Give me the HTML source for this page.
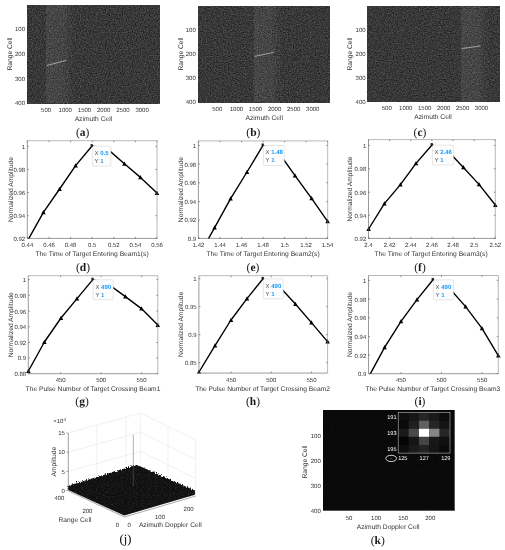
<!DOCTYPE html>
<html lang="en"><head><meta charset="utf-8"><title>Figure</title>
<style>
html,body{margin:0;padding:0;background:#fff}
body{width:505px;height:550px;overflow:hidden}
svg{display:block;text-rendering:geometricPrecision;font-family:"Liberation Sans",sans-serif}
.cap{font-family:"Liberation Serif",serif;font-size:11.5px;fill:#1a1a1a}
</style></head><body>
<svg width="505" height="550" viewBox="0 0 505 550">
<defs>
<filter id="nz0" x="0" y="0" width="100%" height="100%" color-interpolation-filters="sRGB">
<feTurbulence type="fractalNoise" baseFrequency="0.77 0.83" numOctaves="2" seed="3" result="t"/>
<feColorMatrix type="matrix" values="0.36 0 0 0 0.04  0.36 0 0 0 0.04  0.36 0 0 0 0.04  0 0 0 0 1"/>
</filter>
<filter id="nz1" x="0" y="0" width="100%" height="100%" color-interpolation-filters="sRGB">
<feTurbulence type="fractalNoise" baseFrequency="0.77 0.83" numOctaves="2" seed="11" result="t"/>
<feColorMatrix type="matrix" values="0.36 0 0 0 0.04  0.36 0 0 0 0.04  0.36 0 0 0 0.04  0 0 0 0 1"/>
</filter>
<filter id="nz2" x="0" y="0" width="100%" height="100%" color-interpolation-filters="sRGB">
<feTurbulence type="fractalNoise" baseFrequency="0.77 0.83" numOctaves="2" seed="27" result="t"/>
<feColorMatrix type="matrix" values="0.36 0 0 0 0.04  0.36 0 0 0 0.04  0.36 0 0 0 0.04  0 0 0 0 1"/>
</filter>
<filter id="nzk" x="0" y="0" width="100%" height="100%" color-interpolation-filters="sRGB">
<feTurbulence type="fractalNoise" baseFrequency="0.9" numOctaves="1" seed="5"/>
<feColorMatrix type="matrix" values="0.12 0 0 0 -0.02  0.12 0 0 0 -0.02  0.12 0 0 0 -0.02  0 0 0 0 1"/>
</filter>
<filter id="nzj" x="-5%" y="-20%" width="110%" height="140%">
<feTurbulence type="fractalNoise" baseFrequency="0.8" numOctaves="1" seed="9"/>
<feDisplacementMap in="SourceGraphic" scale="5.5" xChannelSelector="R" yChannelSelector="G"/>
</filter>
<filter id="nzs" x="0" y="0" width="100%" height="100%" color-interpolation-filters="sRGB">
<feTurbulence type="fractalNoise" baseFrequency="0.85 0.9" numOctaves="1" seed="17"/>
<feColorMatrix type="matrix" values="0 0 0 0 0.2  0 0 0 0 0.2  0 0 0 0 0.2  3 0 0 0 -1.55"/>
</filter>
<linearGradient id="band" x1="0" x2="1" y1="0" y2="0">
<stop offset="0" stop-color="#fff" stop-opacity="0.075"/>
<stop offset="0.6" stop-color="#fff" stop-opacity="0.065"/>
<stop offset="0.8" stop-color="#fff" stop-opacity="0.02"/>
<stop offset="1" stop-color="#fff" stop-opacity="0"/>
</linearGradient>
</defs>
<rect width="505" height="550" fill="#fff"/>
<rect x="27.3" y="5.0" width="132.35" height="98.40" fill="#3d3d3d"/>
<rect x="27.3" y="5.0" width="132.35" height="98.40" filter="url(#nz0)"/>
<rect x="46.0" y="5.0" width="30" height="98.40" fill="url(#band)"/>
<line x1="46.4" y1="65.6" x2="66" y2="60.4" stroke="#cdcdcd" stroke-width="0.7"/>
<text x="25.00" y="31.48" font-size="6.0" text-anchor="end" fill="#333" >100</text>
<text x="25.00" y="56.08" font-size="6.0" text-anchor="end" fill="#333" >200</text>
<text x="25.00" y="80.68" font-size="6.0" text-anchor="end" fill="#333" >300</text>
<text x="25.00" y="105.28" font-size="6.0" text-anchor="end" fill="#333" >400</text>
<text x="46.10" y="111.60" font-size="6.0" text-anchor="middle" fill="#333" >500</text>
<text x="65.30" y="111.60" font-size="6.0" text-anchor="middle" fill="#333" >1000</text>
<text x="84.50" y="111.60" font-size="6.0" text-anchor="middle" fill="#333" >1500</text>
<text x="103.70" y="111.60" font-size="6.0" text-anchor="middle" fill="#333" >2000</text>
<text x="122.90" y="111.60" font-size="6.0" text-anchor="middle" fill="#333" >2500</text>
<text x="142.10" y="111.60" font-size="6.0" text-anchor="middle" fill="#333" >3000</text>
<text transform="translate(12.16,54.00) rotate(-90)" font-size="6.7" text-anchor="middle" fill="#333">Range Cell</text>
<text x="93.40" y="120.68" font-size="6.7" text-anchor="middle" fill="#333" >Azimuth Cell</text>
<text x="82.60" y="136.40" class="cap" text-anchor="middle">(<tspan font-weight="bold">a</tspan>)</text>
<rect x="198.1" y="6.1" width="131.75" height="96.30" fill="#3d3d3d"/>
<rect x="198.1" y="6.1" width="131.75" height="96.30" filter="url(#nz1)"/>
<rect x="254" y="6.1" width="30" height="96.30" fill="url(#band)"/>
<line x1="254.4" y1="56.4" x2="273.6" y2="52.4" stroke="#cdcdcd" stroke-width="0.7"/>
<text x="195.80" y="32.05" font-size="6.0" text-anchor="end" fill="#333" >100</text>
<text x="195.80" y="56.13" font-size="6.0" text-anchor="end" fill="#333" >200</text>
<text x="195.80" y="80.20" font-size="6.0" text-anchor="end" fill="#333" >300</text>
<text x="195.80" y="104.28" font-size="6.0" text-anchor="end" fill="#333" >400</text>
<text x="217.30" y="110.60" font-size="6.0" text-anchor="middle" fill="#333" >500</text>
<text x="236.40" y="110.60" font-size="6.0" text-anchor="middle" fill="#333" >1000</text>
<text x="255.50" y="110.60" font-size="6.0" text-anchor="middle" fill="#333" >1500</text>
<text x="274.60" y="110.60" font-size="6.0" text-anchor="middle" fill="#333" >2000</text>
<text x="293.70" y="110.60" font-size="6.0" text-anchor="middle" fill="#333" >2500</text>
<text x="312.80" y="110.60" font-size="6.0" text-anchor="middle" fill="#333" >3000</text>
<text transform="translate(182.76,54.00) rotate(-90)" font-size="6.7" text-anchor="middle" fill="#333">Range Cell</text>
<text x="264.30" y="119.68" font-size="6.7" text-anchor="middle" fill="#333" >Azimuth Cell</text>
<text x="253.40" y="136.20" class="cap" text-anchor="middle">(<tspan font-weight="bold">b</tspan>)</text>
<rect x="367.9" y="6.4" width="131.35" height="95.50" fill="#3d3d3d"/>
<rect x="367.9" y="6.4" width="131.35" height="95.50" filter="url(#nz2)"/>
<rect x="461.2" y="6.4" width="30" height="95.50" fill="url(#band)"/>
<line x1="461.6" y1="48.6" x2="480.4" y2="46" stroke="#cdcdcd" stroke-width="0.7"/>
<text x="365.60" y="32.16" font-size="6.0" text-anchor="end" fill="#333" >100</text>
<text x="365.60" y="56.03" font-size="6.0" text-anchor="end" fill="#333" >200</text>
<text x="365.60" y="79.91" font-size="6.0" text-anchor="end" fill="#333" >300</text>
<text x="365.60" y="103.78" font-size="6.0" text-anchor="end" fill="#333" >400</text>
<text x="386.80" y="110.10" font-size="6.0" text-anchor="middle" fill="#333" >500</text>
<text x="405.75" y="110.10" font-size="6.0" text-anchor="middle" fill="#333" >1000</text>
<text x="424.70" y="110.10" font-size="6.0" text-anchor="middle" fill="#333" >1500</text>
<text x="443.65" y="110.10" font-size="6.0" text-anchor="middle" fill="#333" >2000</text>
<text x="462.60" y="110.10" font-size="6.0" text-anchor="middle" fill="#333" >2500</text>
<text x="481.55" y="110.10" font-size="6.0" text-anchor="middle" fill="#333" >3000</text>
<text transform="translate(351.76,54.00) rotate(-90)" font-size="6.7" text-anchor="middle" fill="#333">Range Cell</text>
<text x="433.10" y="119.18" font-size="6.7" text-anchor="middle" fill="#333" >Azimuth Cell</text>
<text x="420.00" y="136.00" class="cap" text-anchor="middle">(<tspan font-weight="bold">c</tspan>)</text>
<rect x="27.3" y="140.7" width="129.70" height="97.70" fill="#fff" stroke="none"/>
<path d="M27.3 146.30h1.5M157 146.30h-1.5" stroke="#444" stroke-width="0.6"/>
<text x="25.10" y="148.70" font-size="6.0" text-anchor="end" fill="#333" >1</text>
<path d="M27.3 169.40h1.5M157 169.40h-1.5" stroke="#444" stroke-width="0.6"/>
<text x="25.10" y="171.80" font-size="6.0" text-anchor="end" fill="#333" >0.98</text>
<path d="M27.3 192.60h1.5M157 192.60h-1.5" stroke="#444" stroke-width="0.6"/>
<text x="25.10" y="195.00" font-size="6.0" text-anchor="end" fill="#333" >0.96</text>
<path d="M27.3 215.70h1.5M157 215.70h-1.5" stroke="#444" stroke-width="0.6"/>
<text x="25.10" y="218.10" font-size="6.0" text-anchor="end" fill="#333" >0.94</text>
<path d="M27.3 238.40h1.5M157 238.40h-1.5" stroke="#444" stroke-width="0.6"/>
<text x="25.10" y="240.80" font-size="6.0" text-anchor="end" fill="#333" >0.92</text>
<path d="M27.40 238.4v-1.5M27.40 140.7v1.5" stroke="#444" stroke-width="0.6"/>
<text x="27.40" y="246.90" font-size="6.0" text-anchor="middle" fill="#333" >0.44</text>
<path d="M49.00 238.4v-1.5M49.00 140.7v1.5" stroke="#444" stroke-width="0.6"/>
<text x="49.00" y="246.90" font-size="6.0" text-anchor="middle" fill="#333" >0.46</text>
<path d="M70.60 238.4v-1.5M70.60 140.7v1.5" stroke="#444" stroke-width="0.6"/>
<text x="70.60" y="246.90" font-size="6.0" text-anchor="middle" fill="#333" >0.48</text>
<path d="M92.20 238.4v-1.5M92.20 140.7v1.5" stroke="#444" stroke-width="0.6"/>
<text x="92.20" y="246.90" font-size="6.0" text-anchor="middle" fill="#333" >0.5</text>
<path d="M113.80 238.4v-1.5M113.80 140.7v1.5" stroke="#444" stroke-width="0.6"/>
<text x="113.80" y="246.90" font-size="6.0" text-anchor="middle" fill="#333" >0.52</text>
<path d="M135.40 238.4v-1.5M135.40 140.7v1.5" stroke="#444" stroke-width="0.6"/>
<text x="135.40" y="246.90" font-size="6.0" text-anchor="middle" fill="#333" >0.54</text>
<path d="M157.00 238.4v-1.5M157.00 140.7v1.5" stroke="#444" stroke-width="0.6"/>
<text x="157.00" y="246.90" font-size="6.0" text-anchor="middle" fill="#333" >0.56</text>
<clipPath id="c27_140"><rect x="24.3" y="137.7" width="136.70" height="101.00"/></clipPath>
<g clip-path="url(#c27_140)"><path d="M27.4 241.0 L43.4 212.4 L59.6 189.0 L75.6 165.6 L92.0 146.0 L108.2 149.6 L124.4 163.8 L140.4 177.4 L157.0 193.0" fill="none" stroke="#000" stroke-width="1.4" stroke-linejoin="round"/>
<path d="M25.15 242.90L29.65 242.90L27.40 238.70Z" fill="#000"/>
<path d="M41.15 214.30L45.65 214.30L43.40 210.10Z" fill="#000"/>
<path d="M57.35 190.90L61.85 190.90L59.60 186.70Z" fill="#000"/>
<path d="M73.35 167.50L77.85 167.50L75.60 163.30Z" fill="#000"/>
<path d="M122.15 165.70L126.65 165.70L124.40 161.50Z" fill="#000"/>
<path d="M138.15 179.30L142.65 179.30L140.40 175.10Z" fill="#000"/>
<path d="M154.75 194.90L159.25 194.90L157.00 190.70Z" fill="#000"/>
</g>
<path d="M27.3 140.7H157V238.4" fill="none" stroke="#7c7c7c" stroke-width="0.55"/>
<path d="M27.3 140.7V238.4H157" fill="none" stroke="#5c5c5c" stroke-width="0.62"/>
<rect x="92.40" y="146.10" width="18.4" height="20" rx="0.8" fill="#fdfdfd" stroke="#cfcfcf" stroke-width="0.5"/>
<rect x="90.60" y="144.10" width="2.2" height="2.4" fill="#1c1c14"/>
<text x="94.60" y="154.90" font-size="6" fill="#555">X <tspan font-weight="bold" fill="#1a9bfc">0.5</tspan></text>
<text x="94.60" y="162.90" font-size="6" fill="#555">Y <tspan font-weight="bold" fill="#1a9bfc">1</tspan></text>
<text transform="translate(12.66,189.55) rotate(-90)" font-size="6.7" text-anchor="middle" fill="#333">Normalized Amplitude</text>
<text x="92.00" y="256.08" font-size="6.7" text-anchor="middle" fill="#333" >The Time of Target Entering Beam1(s)</text>
<text x="83.00" y="271.20" class="cap" text-anchor="middle">(<tspan font-weight="bold">d</tspan>)</text>
<rect x="198.4" y="140.9" width="129.30" height="97.50" fill="#fff" stroke="none"/>
<path d="M198.4 145.40h1.5M327.7 145.40h-1.5" stroke="#444" stroke-width="0.6"/>
<text x="196.20" y="147.80" font-size="6.0" text-anchor="end" fill="#333" >1</text>
<path d="M198.4 164.10h1.5M327.7 164.10h-1.5" stroke="#444" stroke-width="0.6"/>
<text x="196.20" y="166.50" font-size="6.0" text-anchor="end" fill="#333" >0.98</text>
<path d="M198.4 182.80h1.5M327.7 182.80h-1.5" stroke="#444" stroke-width="0.6"/>
<text x="196.20" y="185.20" font-size="6.0" text-anchor="end" fill="#333" >0.96</text>
<path d="M198.4 201.60h1.5M327.7 201.60h-1.5" stroke="#444" stroke-width="0.6"/>
<text x="196.20" y="204.00" font-size="6.0" text-anchor="end" fill="#333" >0.94</text>
<path d="M198.4 220.00h1.5M327.7 220.00h-1.5" stroke="#444" stroke-width="0.6"/>
<text x="196.20" y="222.40" font-size="6.0" text-anchor="end" fill="#333" >0.92</text>
<path d="M198.4 238.40h1.5M327.7 238.40h-1.5" stroke="#444" stroke-width="0.6"/>
<text x="196.20" y="240.80" font-size="6.0" text-anchor="end" fill="#333" >0.9</text>
<path d="M198.60 238.4v-1.5M198.60 140.9v1.5" stroke="#444" stroke-width="0.6"/>
<text x="198.60" y="246.90" font-size="6.0" text-anchor="middle" fill="#333" >1.42</text>
<path d="M220.10 238.4v-1.5M220.10 140.9v1.5" stroke="#444" stroke-width="0.6"/>
<text x="220.10" y="246.90" font-size="6.0" text-anchor="middle" fill="#333" >1.44</text>
<path d="M241.60 238.4v-1.5M241.60 140.9v1.5" stroke="#444" stroke-width="0.6"/>
<text x="241.60" y="246.90" font-size="6.0" text-anchor="middle" fill="#333" >1.46</text>
<path d="M263.10 238.4v-1.5M263.10 140.9v1.5" stroke="#444" stroke-width="0.6"/>
<text x="263.10" y="246.90" font-size="6.0" text-anchor="middle" fill="#333" >1.48</text>
<path d="M284.60 238.4v-1.5M284.60 140.9v1.5" stroke="#444" stroke-width="0.6"/>
<text x="284.60" y="246.90" font-size="6.0" text-anchor="middle" fill="#333" >1.5</text>
<path d="M306.10 238.4v-1.5M306.10 140.9v1.5" stroke="#444" stroke-width="0.6"/>
<text x="306.10" y="246.90" font-size="6.0" text-anchor="middle" fill="#333" >1.52</text>
<path d="M327.60 238.4v-1.5M327.60 140.9v1.5" stroke="#444" stroke-width="0.6"/>
<text x="327.60" y="246.90" font-size="6.0" text-anchor="middle" fill="#333" >1.54</text>
<clipPath id="c198_140"><rect x="195.4" y="137.9" width="136.30" height="100.80"/></clipPath>
<g clip-path="url(#c198_140)"><path d="M198.6 256.6 L214.6 227.6 L230.6 198.6 L247.0 172.0 L263.0 145.4 L279.0 153.0 L295.0 175.6 L311.6 198.4 L327.6 221.4" fill="none" stroke="#000" stroke-width="1.4" stroke-linejoin="round"/>
<path d="M196.35 258.50L200.85 258.50L198.60 254.30Z" fill="#000"/>
<path d="M212.35 229.50L216.85 229.50L214.60 225.30Z" fill="#000"/>
<path d="M228.35 200.50L232.85 200.50L230.60 196.30Z" fill="#000"/>
<path d="M244.75 173.90L249.25 173.90L247.00 169.70Z" fill="#000"/>
<path d="M292.75 177.50L297.25 177.50L295.00 173.30Z" fill="#000"/>
<path d="M309.35 200.30L313.85 200.30L311.60 196.10Z" fill="#000"/>
<path d="M325.35 223.30L329.85 223.30L327.60 219.10Z" fill="#000"/>
</g>
<path d="M198.4 140.9H327.7V238.4" fill="none" stroke="#7c7c7c" stroke-width="0.55"/>
<path d="M198.4 140.9V238.4H327.7" fill="none" stroke="#5c5c5c" stroke-width="0.62"/>
<rect x="263.40" y="145.50" width="20.8" height="20" rx="0.8" fill="#fdfdfd" stroke="#cfcfcf" stroke-width="0.5"/>
<rect x="261.60" y="143.50" width="2.2" height="2.4" fill="#1c1c14"/>
<text x="265.60" y="154.30" font-size="6" fill="#555">X <tspan font-weight="bold" fill="#1a9bfc">1.48</tspan></text>
<text x="265.60" y="162.30" font-size="6" fill="#555">Y <tspan font-weight="bold" fill="#1a9bfc">1</tspan></text>
<text transform="translate(183.26,189.65) rotate(-90)" font-size="6.7" text-anchor="middle" fill="#333">Normalized Amplitude</text>
<text x="263.00" y="256.08" font-size="6.7" text-anchor="middle" fill="#333" >The Time of Target Entering Beam2(s)</text>
<text x="253.00" y="270.80" class="cap" text-anchor="middle">(<tspan font-weight="bold">e</tspan>)</text>
<rect x="368.5" y="139.6" width="126.80" height="98.80" fill="#fff" stroke="none"/>
<path d="M368.5 145.40h1.5M495.3 145.40h-1.5" stroke="#444" stroke-width="0.6"/>
<text x="366.30" y="147.80" font-size="6.0" text-anchor="end" fill="#333" >1</text>
<path d="M368.5 168.80h1.5M495.3 168.80h-1.5" stroke="#444" stroke-width="0.6"/>
<text x="366.30" y="171.20" font-size="6.0" text-anchor="end" fill="#333" >0.98</text>
<path d="M368.5 192.20h1.5M495.3 192.20h-1.5" stroke="#444" stroke-width="0.6"/>
<text x="366.30" y="194.60" font-size="6.0" text-anchor="end" fill="#333" >0.96</text>
<path d="M368.5 215.30h1.5M495.3 215.30h-1.5" stroke="#444" stroke-width="0.6"/>
<text x="366.30" y="217.70" font-size="6.0" text-anchor="end" fill="#333" >0.94</text>
<path d="M368.5 238.40h1.5M495.3 238.40h-1.5" stroke="#444" stroke-width="0.6"/>
<text x="366.30" y="240.80" font-size="6.0" text-anchor="end" fill="#333" >0.92</text>
<path d="M368.50 238.4v-1.5M368.50 139.6v1.5" stroke="#444" stroke-width="0.6"/>
<text x="368.50" y="246.90" font-size="6.0" text-anchor="middle" fill="#333" >2.4</text>
<path d="M389.60 238.4v-1.5M389.60 139.6v1.5" stroke="#444" stroke-width="0.6"/>
<text x="389.60" y="246.90" font-size="6.0" text-anchor="middle" fill="#333" >2.42</text>
<path d="M410.80 238.4v-1.5M410.80 139.6v1.5" stroke="#444" stroke-width="0.6"/>
<text x="410.80" y="246.90" font-size="6.0" text-anchor="middle" fill="#333" >2.44</text>
<path d="M431.90 238.4v-1.5M431.90 139.6v1.5" stroke="#444" stroke-width="0.6"/>
<text x="431.90" y="246.90" font-size="6.0" text-anchor="middle" fill="#333" >2.46</text>
<path d="M453.00 238.4v-1.5M453.00 139.6v1.5" stroke="#444" stroke-width="0.6"/>
<text x="453.00" y="246.90" font-size="6.0" text-anchor="middle" fill="#333" >2.48</text>
<path d="M474.20 238.4v-1.5M474.20 139.6v1.5" stroke="#444" stroke-width="0.6"/>
<text x="474.20" y="246.90" font-size="6.0" text-anchor="middle" fill="#333" >2.5</text>
<path d="M495.30 238.4v-1.5M495.30 139.6v1.5" stroke="#444" stroke-width="0.6"/>
<text x="495.30" y="246.90" font-size="6.0" text-anchor="middle" fill="#333" >2.52</text>
<clipPath id="c368_139"><rect x="365.5" y="136.6" width="133.80" height="102.10"/></clipPath>
<g clip-path="url(#c368_139)"><path d="M368.6 229.0 L384.4 203.6 L400.4 184.6 L416.0 163.4 L432.0 145.0 L447.9 151.0 L463.4 167.4 L479.0 184.4 L495.3 205.0" fill="none" stroke="#000" stroke-width="1.4" stroke-linejoin="round"/>
<path d="M366.35 230.90L370.85 230.90L368.60 226.70Z" fill="#000"/>
<path d="M382.15 205.50L386.65 205.50L384.40 201.30Z" fill="#000"/>
<path d="M398.15 186.50L402.65 186.50L400.40 182.30Z" fill="#000"/>
<path d="M413.75 165.30L418.25 165.30L416.00 161.10Z" fill="#000"/>
<path d="M461.15 169.30L465.65 169.30L463.40 165.10Z" fill="#000"/>
<path d="M476.75 186.30L481.25 186.30L479.00 182.10Z" fill="#000"/>
<path d="M493.05 206.90L497.55 206.90L495.30 202.70Z" fill="#000"/>
</g>
<path d="M368.5 139.6H495.3V238.4" fill="none" stroke="#7c7c7c" stroke-width="0.55"/>
<path d="M368.5 139.6V238.4H495.3" fill="none" stroke="#5c5c5c" stroke-width="0.62"/>
<rect x="432.40" y="145.10" width="21" height="20" rx="0.8" fill="#fdfdfd" stroke="#cfcfcf" stroke-width="0.5"/>
<rect x="430.60" y="143.10" width="2.2" height="2.4" fill="#1c1c14"/>
<text x="434.60" y="153.90" font-size="6" fill="#555">X <tspan font-weight="bold" fill="#1a9bfc">2.46</tspan></text>
<text x="434.60" y="161.90" font-size="6" fill="#555">Y <tspan font-weight="bold" fill="#1a9bfc">1</tspan></text>
<text transform="translate(352.26,189.00) rotate(-90)" font-size="6.7" text-anchor="middle" fill="#333">Normalized Amplitude</text>
<text x="431.00" y="256.08" font-size="6.7" text-anchor="middle" fill="#333" >The Time of Target Entering Beam3(s)</text>
<text x="420.00" y="271.20" class="cap" text-anchor="middle">(<tspan font-weight="bold">f</tspan>)</text>
<rect x="28.3" y="275.7" width="129.50" height="98.00" fill="#fff" stroke="none"/>
<path d="M28.3 279.60h1.5M157.8 279.60h-1.5" stroke="#444" stroke-width="0.6"/>
<text x="26.10" y="282.00" font-size="6.0" text-anchor="end" fill="#333" >1</text>
<path d="M28.3 295.30h1.5M157.8 295.30h-1.5" stroke="#444" stroke-width="0.6"/>
<text x="26.10" y="297.70" font-size="6.0" text-anchor="end" fill="#333" >0.98</text>
<path d="M28.3 311.10h1.5M157.8 311.10h-1.5" stroke="#444" stroke-width="0.6"/>
<text x="26.10" y="313.50" font-size="6.0" text-anchor="end" fill="#333" >0.96</text>
<path d="M28.3 326.80h1.5M157.8 326.80h-1.5" stroke="#444" stroke-width="0.6"/>
<text x="26.10" y="329.20" font-size="6.0" text-anchor="end" fill="#333" >0.94</text>
<path d="M28.3 342.50h1.5M157.8 342.50h-1.5" stroke="#444" stroke-width="0.6"/>
<text x="26.10" y="344.90" font-size="6.0" text-anchor="end" fill="#333" >0.92</text>
<path d="M28.3 358.00h1.5M157.8 358.00h-1.5" stroke="#444" stroke-width="0.6"/>
<text x="26.10" y="360.40" font-size="6.0" text-anchor="end" fill="#333" >0.9</text>
<path d="M28.3 373.70h1.5M157.8 373.70h-1.5" stroke="#444" stroke-width="0.6"/>
<text x="26.10" y="376.10" font-size="6.0" text-anchor="end" fill="#333" >0.88</text>
<path d="M60.67 373.7v-1.5M60.67 275.7v1.5" stroke="#444" stroke-width="0.6"/>
<text x="60.67" y="382.20" font-size="6.0" text-anchor="middle" fill="#333" >450</text>
<path d="M101.14 373.7v-1.5M101.14 275.7v1.5" stroke="#444" stroke-width="0.6"/>
<text x="101.14" y="382.20" font-size="6.0" text-anchor="middle" fill="#333" >500</text>
<path d="M141.61 373.7v-1.5M141.61 275.7v1.5" stroke="#444" stroke-width="0.6"/>
<text x="141.61" y="382.20" font-size="6.0" text-anchor="middle" fill="#333" >550</text>
<clipPath id="c28_275"><rect x="25.3" y="272.7" width="136.50" height="101.30"/></clipPath>
<g clip-path="url(#c28_275)"><path d="M28.4 371.0 L44.4 342.0 L61.0 318.0 L77.0 298.6 L92.8 279.6 L109.0 284.6 L125.4 296.6 L141.4 308.6 L157.8 325.0" fill="none" stroke="#000" stroke-width="1.4" stroke-linejoin="round"/>
<path d="M26.15 372.90L30.65 372.90L28.40 368.70Z" fill="#000"/>
<path d="M42.15 343.90L46.65 343.90L44.40 339.70Z" fill="#000"/>
<path d="M58.75 319.90L63.25 319.90L61.00 315.70Z" fill="#000"/>
<path d="M74.75 300.50L79.25 300.50L77.00 296.30Z" fill="#000"/>
<path d="M123.15 298.50L127.65 298.50L125.40 294.30Z" fill="#000"/>
<path d="M139.15 310.50L143.65 310.50L141.40 306.30Z" fill="#000"/>
<path d="M155.55 326.90L160.05 326.90L157.80 322.70Z" fill="#000"/>
</g>
<path d="M28.3 275.7H157.8V373.7" fill="none" stroke="#7c7c7c" stroke-width="0.55"/>
<path d="M28.3 275.7V373.7H157.8" fill="none" stroke="#5c5c5c" stroke-width="0.62"/>
<rect x="93.20" y="279.70" width="20" height="20" rx="0.8" fill="#fdfdfd" stroke="#cfcfcf" stroke-width="0.5"/>
<rect x="91.40" y="277.70" width="2.2" height="2.4" fill="#1c1c14"/>
<text x="95.40" y="288.50" font-size="6" fill="#555">X <tspan font-weight="bold" fill="#1a9bfc">490</tspan></text>
<text x="95.40" y="296.50" font-size="6" fill="#555">Y <tspan font-weight="bold" fill="#1a9bfc">1</tspan></text>
<text transform="translate(12.66,324.70) rotate(-90)" font-size="6.7" text-anchor="middle" fill="#333">Normalized Amplitude</text>
<text x="93.00" y="391.38" font-size="6.7" text-anchor="middle" fill="#333" >The Pulse Number of Target Crossing Beam1</text>
<text x="82.00" y="404.60" class="cap" text-anchor="middle">(<tspan font-weight="bold">g</tspan>)</text>
<rect x="198.9" y="275.7" width="128.70" height="97.40" fill="#fff" stroke="none"/>
<path d="M198.9 278.70h1.5M327.6 278.70h-1.5" stroke="#444" stroke-width="0.6"/>
<text x="196.70" y="281.10" font-size="6.0" text-anchor="end" fill="#333" >1</text>
<path d="M198.9 306.70h1.5M327.6 306.70h-1.5" stroke="#444" stroke-width="0.6"/>
<text x="196.70" y="309.10" font-size="6.0" text-anchor="end" fill="#333" >0.95</text>
<path d="M198.9 334.70h1.5M327.6 334.70h-1.5" stroke="#444" stroke-width="0.6"/>
<text x="196.70" y="337.10" font-size="6.0" text-anchor="end" fill="#333" >0.9</text>
<path d="M198.9 362.70h1.5M327.6 362.70h-1.5" stroke="#444" stroke-width="0.6"/>
<text x="196.70" y="365.10" font-size="6.0" text-anchor="end" fill="#333" >0.85</text>
<path d="M231.08 373.1v-1.5M231.08 275.7v1.5" stroke="#444" stroke-width="0.6"/>
<text x="231.08" y="381.60" font-size="6.0" text-anchor="middle" fill="#333" >450</text>
<path d="M271.29 373.1v-1.5M271.29 275.7v1.5" stroke="#444" stroke-width="0.6"/>
<text x="271.29" y="381.60" font-size="6.0" text-anchor="middle" fill="#333" >500</text>
<path d="M311.51 373.1v-1.5M311.51 275.7v1.5" stroke="#444" stroke-width="0.6"/>
<text x="311.51" y="381.60" font-size="6.0" text-anchor="middle" fill="#333" >550</text>
<clipPath id="c198_275"><rect x="195.9" y="272.7" width="135.70" height="100.70"/></clipPath>
<g clip-path="url(#c198_275)"><path d="M199.0 372.0 L215.0 345.6 L231.0 320.0 L247.0 298.6 L263.0 278.8 L279.1 286.3 L295.4 304.0 L311.4 322.6 L327.6 341.6" fill="none" stroke="#000" stroke-width="1.4" stroke-linejoin="round"/>
<path d="M196.75 373.90L201.25 373.90L199.00 369.70Z" fill="#000"/>
<path d="M212.75 347.50L217.25 347.50L215.00 343.30Z" fill="#000"/>
<path d="M228.75 321.90L233.25 321.90L231.00 317.70Z" fill="#000"/>
<path d="M244.75 300.50L249.25 300.50L247.00 296.30Z" fill="#000"/>
<path d="M293.15 305.90L297.65 305.90L295.40 301.70Z" fill="#000"/>
<path d="M309.15 324.50L313.65 324.50L311.40 320.30Z" fill="#000"/>
<path d="M325.35 343.50L329.85 343.50L327.60 339.30Z" fill="#000"/>
</g>
<path d="M198.9 275.7H327.6V373.1" fill="none" stroke="#7c7c7c" stroke-width="0.55"/>
<path d="M198.9 275.7V373.1H327.6" fill="none" stroke="#5c5c5c" stroke-width="0.62"/>
<rect x="263.40" y="278.90" width="19.8" height="20" rx="0.8" fill="#fdfdfd" stroke="#cfcfcf" stroke-width="0.5"/>
<rect x="261.60" y="276.90" width="2.2" height="2.4" fill="#1c1c14"/>
<text x="265.60" y="287.70" font-size="6" fill="#555">X <tspan font-weight="bold" fill="#1a9bfc">490</tspan></text>
<text x="265.60" y="295.70" font-size="6" fill="#555">Y <tspan font-weight="bold" fill="#1a9bfc">1</tspan></text>
<text transform="translate(183.26,324.40) rotate(-90)" font-size="6.7" text-anchor="middle" fill="#333">Normalized Amplitude</text>
<text x="262.60" y="390.78" font-size="6.7" text-anchor="middle" fill="#333" >The Pulse Number of Target Crossing Beam2</text>
<text x="253.00" y="404.60" class="cap" text-anchor="middle">(<tspan font-weight="bold">h</tspan>)</text>
<rect x="368.5" y="275.5" width="129.80" height="98.20" fill="#fff" stroke="none"/>
<path d="M368.5 280.40h1.5M498.3 280.40h-1.5" stroke="#444" stroke-width="0.6"/>
<text x="366.30" y="282.80" font-size="6.0" text-anchor="end" fill="#333" >1</text>
<path d="M368.5 299.10h1.5M498.3 299.10h-1.5" stroke="#444" stroke-width="0.6"/>
<text x="366.30" y="301.50" font-size="6.0" text-anchor="end" fill="#333" >0.98</text>
<path d="M368.5 317.80h1.5M498.3 317.80h-1.5" stroke="#444" stroke-width="0.6"/>
<text x="366.30" y="320.20" font-size="6.0" text-anchor="end" fill="#333" >0.96</text>
<path d="M368.5 336.60h1.5M498.3 336.60h-1.5" stroke="#444" stroke-width="0.6"/>
<text x="366.30" y="339.00" font-size="6.0" text-anchor="end" fill="#333" >0.94</text>
<path d="M368.5 355.10h1.5M498.3 355.10h-1.5" stroke="#444" stroke-width="0.6"/>
<text x="366.30" y="357.50" font-size="6.0" text-anchor="end" fill="#333" >0.92</text>
<path d="M368.5 373.70h1.5M498.3 373.70h-1.5" stroke="#444" stroke-width="0.6"/>
<text x="366.30" y="376.10" font-size="6.0" text-anchor="end" fill="#333" >0.9</text>
<path d="M400.95 373.7v-1.5M400.95 275.5v1.5" stroke="#444" stroke-width="0.6"/>
<text x="400.95" y="382.20" font-size="6.0" text-anchor="middle" fill="#333" >450</text>
<path d="M441.51 373.7v-1.5M441.51 275.5v1.5" stroke="#444" stroke-width="0.6"/>
<text x="441.51" y="382.20" font-size="6.0" text-anchor="middle" fill="#333" >500</text>
<path d="M482.07 373.7v-1.5M482.07 275.5v1.5" stroke="#444" stroke-width="0.6"/>
<text x="482.07" y="382.20" font-size="6.0" text-anchor="middle" fill="#333" >550</text>
<clipPath id="c368_275"><rect x="365.5" y="272.5" width="136.80" height="101.50"/></clipPath>
<g clip-path="url(#c368_275)"><path d="M368.6 377.0 L384.6 347.4 L401.0 321.4 L417.0 299.6 L433.0 279.8 L449.2 288.0 L465.6 306.6 L482.0 328.4 L498.3 355.6" fill="none" stroke="#000" stroke-width="1.4" stroke-linejoin="round"/>
<path d="M366.35 378.90L370.85 378.90L368.60 374.70Z" fill="#000"/>
<path d="M382.35 349.30L386.85 349.30L384.60 345.10Z" fill="#000"/>
<path d="M398.75 323.30L403.25 323.30L401.00 319.10Z" fill="#000"/>
<path d="M414.75 301.50L419.25 301.50L417.00 297.30Z" fill="#000"/>
<path d="M463.35 308.50L467.85 308.50L465.60 304.30Z" fill="#000"/>
<path d="M479.75 330.30L484.25 330.30L482.00 326.10Z" fill="#000"/>
<path d="M496.05 357.50L500.55 357.50L498.30 353.30Z" fill="#000"/>
</g>
<path d="M368.5 275.5H498.3V373.7" fill="none" stroke="#7c7c7c" stroke-width="0.55"/>
<path d="M368.5 275.5V373.7H498.3" fill="none" stroke="#5c5c5c" stroke-width="0.62"/>
<rect x="433.40" y="279.90" width="20" height="20" rx="0.8" fill="#fdfdfd" stroke="#cfcfcf" stroke-width="0.5"/>
<rect x="431.60" y="277.90" width="2.2" height="2.4" fill="#1c1c14"/>
<text x="435.60" y="288.70" font-size="6" fill="#555">X <tspan font-weight="bold" fill="#1a9bfc">490</tspan></text>
<text x="435.60" y="296.70" font-size="6" fill="#555">Y <tspan font-weight="bold" fill="#1a9bfc">1</tspan></text>
<text transform="translate(352.26,324.60) rotate(-90)" font-size="6.7" text-anchor="middle" fill="#333">Normalized Amplitude</text>
<text x="432.80" y="391.38" font-size="6.7" text-anchor="middle" fill="#333" >The Pulse Number of Target Crossing Beam3</text>
<text x="420.00" y="404.60" class="cap" text-anchor="middle">(<tspan font-weight="bold">i</tspan>)</text>
<g stroke="#e2e2e2" stroke-width="0.5" fill="none">
<path d="M68 433L140.4 413L195.6 440"/>
<path d="M68 452.2L140.4 432.2L195.6 459.2"/>
<path d="M68 471.4L140.4 451.4L195.6 478.4"/>
<path d="M140.4 413V468M96.8 425V480M125.8 417V470M168 426.5V480M195.6 440V495"/>
</g>
<path d="M68.3 433V490.6" stroke="#777" stroke-width="0.7"/>
<path d="M68.3 433h-1.9" stroke="#555" stroke-width="0.5"/>
<path d="M68.3 452.2h-1.9" stroke="#555" stroke-width="0.5"/>
<path d="M68.3 471.4h-1.9" stroke="#555" stroke-width="0.5"/>
<path d="M68.3 490.6h-1.9" stroke="#555" stroke-width="0.5"/>
<path d="M68.3 490.8L124.4 517L195.8 496" stroke="#555" stroke-width="0.5" fill="none"/>
<polygon points="68.3,485.8 136.6,464.8 194.8,490.4 194.8,492.4 136.6,468.5 68.3,488.4" fill="#101010" filter="url(#nzj)"/>
<clipPath id="surf"><polygon points="68.3,486.6 136.6,466.2 194.9,491.4 194.9,494.7 124.2,515.5 68.3,490.1"/></clipPath>
<polygon points="68.3,486.6 136.6,466.2 194.9,491.4 194.9,494.7 124.2,515.5 68.3,490.1" fill="#101010"/>
<rect x="66" y="462" width="132" height="56" filter="url(#nzs)" clip-path="url(#surf)"/>
<path d="M133.3 435V466" stroke="#909090" stroke-width="0.7"/><path d="M133.3 466V486" stroke="#505050" stroke-width="0.7"/>
<text x="64.90" y="435.20" font-size="6.0" text-anchor="end" fill="#333" >15</text>
<text x="64.90" y="454.40" font-size="6.0" text-anchor="end" fill="#333" >10</text>
<text x="64.90" y="473.60" font-size="6.0" text-anchor="end" fill="#333" >5</text>
<text x="64.90" y="492.80" font-size="6.0" text-anchor="end" fill="#333" >0</text>
<text x="53.2" y="422.9" font-size="6" fill="#333">×10<tspan dy="-2.3" font-size="4.4">4</tspan></text>
<text transform="translate(55.66,461.60) rotate(-90)" font-size="6.7" text-anchor="middle" fill="#333">Amplitude</text>
<text x="59.40" y="499.80" font-size="6.0" text-anchor="middle" fill="#333" >400</text>
<text x="87.40" y="512.60" font-size="6.0" text-anchor="middle" fill="#333" >200</text>
<text x="117.40" y="526.70" font-size="6.0" text-anchor="middle" fill="#333" >0</text>
<text x="129.20" y="526.70" font-size="6.0" text-anchor="middle" fill="#333" >0</text>
<text x="160.00" y="518.70" font-size="6.0" text-anchor="middle" fill="#333" >100</text>
<text x="188.60" y="510.70" font-size="6.0" text-anchor="middle" fill="#333" >200</text>
<text x="75.00" y="522.18" font-size="6.7" text-anchor="middle" fill="#333" >Range Cell</text>
<text x="170.30" y="526.98" font-size="6.7" text-anchor="middle" fill="#333" >Azimuth Doppler Cell</text>
<text x="125.4" y="543.3" class="cap" style="font-size:12.6px;fill:#000" text-anchor="middle">(j)</text>
<rect x="323" y="410" width="131.2" height="100.2" fill="#0a0a0a"/>
<rect x="323" y="410" width="131.2" height="100.2" filter="url(#nzk)" opacity="0.6"/>
<text x="320.80" y="437.80" font-size="6.0" text-anchor="end" fill="#333" >100</text>
<text x="320.80" y="462.80" font-size="6.0" text-anchor="end" fill="#333" >200</text>
<text x="320.80" y="487.80" font-size="6.0" text-anchor="end" fill="#333" >300</text>
<text x="320.80" y="512.80" font-size="6.0" text-anchor="end" fill="#333" >400</text>
<text x="349.00" y="519.60" font-size="6.0" text-anchor="middle" fill="#333" >50</text>
<text x="376.10" y="519.60" font-size="6.0" text-anchor="middle" fill="#333" >100</text>
<text x="403.20" y="519.60" font-size="6.0" text-anchor="middle" fill="#333" >150</text>
<text x="430.30" y="519.60" font-size="6.0" text-anchor="middle" fill="#333" >200</text>
<text transform="translate(307.16,462.00) rotate(-90)" font-size="6.7" text-anchor="middle" fill="#333">Range Cell</text>
<text x="388.20" y="529.48" font-size="6.7" text-anchor="middle" fill="#333" >Azimuth Doppler Cell</text>
<text x="377.80" y="543.60" class="cap" text-anchor="middle">(<tspan font-weight="bold">k</tspan>)</text>
<rect x="398.20" y="412.50" width="10.41" height="8.17" fill="#0e0e0e"/>
<rect x="408.56" y="412.50" width="10.41" height="8.17" fill="#161616"/>
<rect x="418.92" y="412.50" width="10.41" height="8.17" fill="#252525"/>
<rect x="429.28" y="412.50" width="10.41" height="8.17" fill="#1a1a1a"/>
<rect x="439.64" y="412.50" width="10.41" height="8.17" fill="#0c0c0c"/>
<rect x="398.20" y="420.62" width="10.41" height="8.17" fill="#0a0a0a"/>
<rect x="408.56" y="420.62" width="10.41" height="8.17" fill="#1f1f1f"/>
<rect x="418.92" y="420.62" width="10.41" height="8.17" fill="#606060"/>
<rect x="429.28" y="420.62" width="10.41" height="8.17" fill="#262626"/>
<rect x="439.64" y="420.62" width="10.41" height="8.17" fill="#141414"/>
<rect x="398.20" y="428.74" width="10.41" height="8.17" fill="#1a1a1a"/>
<rect x="408.56" y="428.74" width="10.41" height="8.17" fill="#4a4a4a"/>
<rect x="418.92" y="428.74" width="10.41" height="8.17" fill="#ffffff"/>
<rect x="429.28" y="428.74" width="10.41" height="8.17" fill="#868686"/>
<rect x="439.64" y="428.74" width="10.41" height="8.17" fill="#262626"/>
<rect x="398.20" y="436.86" width="10.41" height="8.17" fill="#050505"/>
<rect x="408.56" y="436.86" width="10.41" height="8.17" fill="#151515"/>
<rect x="418.92" y="436.86" width="10.41" height="8.17" fill="#454545"/>
<rect x="429.28" y="436.86" width="10.41" height="8.17" fill="#181818"/>
<rect x="439.64" y="436.86" width="10.41" height="8.17" fill="#101010"/>
<rect x="398.20" y="444.98" width="10.41" height="8.17" fill="#0c0c0c"/>
<rect x="408.56" y="444.98" width="10.41" height="8.17" fill="#1a1a1a"/>
<rect x="418.92" y="444.98" width="10.41" height="8.17" fill="#232323"/>
<rect x="429.28" y="444.98" width="10.41" height="8.17" fill="#161616"/>
<rect x="439.64" y="444.98" width="10.41" height="8.17" fill="#0a0a0a"/>
<rect x="398.2" y="412.5" width="51.80000000000001" height="40.60" fill="none" stroke="#b8b8b8" stroke-width="0.6"/>
<text x="396.60" y="419.24" font-size="5.6" text-anchor="end" fill="#ffffff" >191</text>
<text x="396.60" y="434.94" font-size="5.6" text-anchor="end" fill="#ffffff" >193</text>
<text x="396.60" y="450.64" font-size="5.6" text-anchor="end" fill="#ffffff" >195</text>
<text x="402.80" y="460.24" font-size="5.6" text-anchor="middle" fill="#ffffff" >125</text>
<text x="424.20" y="460.24" font-size="5.6" text-anchor="middle" fill="#ffffff" >127</text>
<text x="445.80" y="460.24" font-size="5.6" text-anchor="middle" fill="#ffffff" >129</text>
<ellipse cx="391.2" cy="458.4" rx="5.4" ry="3.1" fill="none" stroke="#f4f4f4" stroke-width="0.85"/><path d="M390.6 458.5h1.2" stroke="#aaa" stroke-width="0.5"/>
</svg>
</body></html>
